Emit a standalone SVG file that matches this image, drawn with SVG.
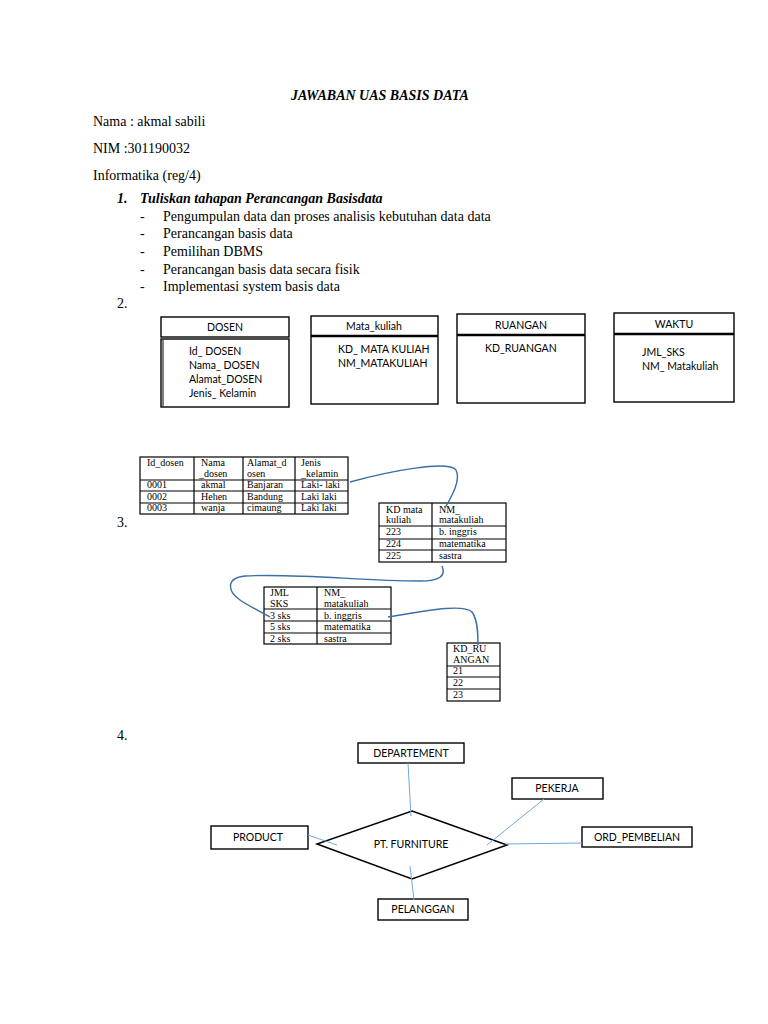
<svg xmlns="http://www.w3.org/2000/svg" width="768" height="1024" viewBox="0 0 768 1024">
<style>
.body{font-family:"Liberation Serif",serif;font-size:14px;fill:#000}
.bi{font-family:"Liberation Serif",serif;font-size:14px;font-weight:bold;font-style:italic;fill:#000}
.ent{font-family:Lato,"Liberation Sans",sans-serif;font-size:10.5px;fill:#000}
.tb{font-family:"Liberation Serif",serif;font-size:10px;fill:#000}
.box{fill:#fff;stroke:#000;stroke-width:1.4}
.grid{fill:none;stroke:#000;stroke-width:1.2}
.curve{fill:none;stroke:#3a6ea5;stroke-width:1.4}
.rel{fill:none;stroke:#6fa8dc;stroke-width:1}
</style>
<rect width="768" height="1024" fill="#fff"/>

<g id="header">
<text class="bi" x="291" y="100">JAWABAN UAS BASIS DATA</text>
<text class="body" x="93" y="126">Nama : akmal sabili</text>
<text class="body" x="93" y="153">NIM :301190032</text>
<text class="body" x="93" y="180">Informatika (reg/4)</text>
<text class="bi" x="117" y="203">1.</text>
<text class="bi" x="140" y="203">Tuliskan tahapan Perancangan Basisdata</text>
<text class="body" x="140" y="221">-</text><text class="body" x="163" y="221">Pengumpulan data dan proses analisis kebutuhan data data</text>
<text class="body" x="140" y="238">-</text><text class="body" x="163" y="238">Perancangan basis data</text>
<text class="body" x="140" y="256">-</text><text class="body" x="163" y="256">Pemilihan DBMS</text>
<text class="body" x="140" y="274">-</text><text class="body" x="163" y="274">Perancangan basis data secara fisik</text>
<text class="body" x="140" y="291">-</text><text class="body" x="163" y="291">Implementasi system basis data</text>
<text class="body" x="117" y="308">2.</text>
<text class="body" x="117" y="527">3.</text>
<text class="body" x="117" y="740">4.</text>
</g>

<g id="ent-dosen">
<rect class="box" x="161" y="317" width="128" height="20"/>
<text class="ent" x="225" y="331" text-anchor="middle">DOSEN</text>
<rect class="box" x="161" y="339" width="128" height="68"/>
<line x1="163" y1="340" x2="163" y2="406" stroke="#000" stroke-width="1"/>
<text class="ent" x="189" y="355">Id_ DOSEN</text>
<text class="ent" x="189" y="369">Nama_ DOSEN</text>
<text class="ent" x="189" y="383">Alamat_DOSEN</text>
<text class="ent" x="189" y="397">Jenis_ Kelamin</text>
</g>

<g id="ent-matakuliah">
<rect class="box" x="311" y="316" width="127" height="88"/>
<line x1="311" y1="336" x2="438" y2="336" stroke="#000" stroke-width="2.6"/>
<text class="ent" x="374" y="330" text-anchor="middle">Mata_kuliah</text>
<text class="ent" x="338" y="353">KD_ MATA KULIAH</text>
<text class="ent" x="338" y="367">NM_MATAKULIAH</text>
</g>

<g id="ent-ruangan">
<rect class="box" x="457" y="314" width="128" height="89"/>
<line x1="457" y1="335" x2="585" y2="335" stroke="#000" stroke-width="2.6"/>
<text class="ent" x="521" y="329" text-anchor="middle">RUANGAN</text>
<text class="ent" x="485" y="352">KD_RUANGAN</text>
</g>

<g id="ent-waktu">
<rect class="box" x="614" y="313" width="120" height="89"/>
<line x1="614" y1="334" x2="734" y2="334" stroke="#000" stroke-width="2.6"/>
<text class="ent" x="674" y="328" text-anchor="middle">WAKTU</text>
<text class="ent" x="642" y="356">JML_SKS</text>
<text class="ent" x="642" y="370">NM_ Matakuliah</text>
</g>

<g id="tbl-dosen">
<rect class="grid" x="140" y="457" width="208" height="57"/>
<path class="grid" d="M194,457V514M243,457V514M295,457V514M140,480H348M140,491H348M140,503H348"/>
<text class="tb" x="147" y="466">Id_dosen</text>
<text class="tb" x="201" y="466">Nama</text><text class="tb" x="199" y="477">_dosen</text>
<text class="tb" x="247" y="466">Alamat_d</text><text class="tb" x="247" y="477">osen</text>
<text class="tb" x="301" y="466">Jenis</text><text class="tb" x="301" y="477">_kelamin</text>
<text class="tb" x="147" y="488">0001</text><text class="tb" x="201" y="488">akmal</text><text class="tb" x="247" y="488">Banjaran</text><text class="tb" x="301" y="488">Laki- laki</text>
<text class="tb" x="147" y="500">0002</text><text class="tb" x="201" y="500">Hehen</text><text class="tb" x="247" y="500">Bandung</text><text class="tb" x="301" y="500">Laki laki</text>
<text class="tb" x="147" y="511">0003</text><text class="tb" x="201" y="511">wanja</text><text class="tb" x="247" y="511">cimaung</text><text class="tb" x="301" y="511">Laki laki</text>
</g>

<g id="tbl-matakuliah">
<rect class="grid" x="379" y="503" width="127" height="59"/>
<path class="grid" d="M432,503V562M379,526H506M379,539H506M379,550H506"/>
<text class="tb" x="386" y="513">KD mata</text><text class="tb" x="386" y="523">kuliah</text>
<text class="tb" x="439" y="513">NM_</text><text class="tb" x="439" y="523">matakuliah</text>
<text class="tb" x="386" y="535">223</text><text class="tb" x="439" y="535">b. inggris</text>
<text class="tb" x="386" y="547">224</text><text class="tb" x="439" y="547">matematika</text>
<text class="tb" x="386" y="559">225</text><text class="tb" x="439" y="559">sastra</text>
</g>

<g id="tbl-waktu">
<rect class="grid" x="264" y="587" width="127" height="57"/>
<path class="grid" d="M317,587V644M264,609H391M264,621H391M264,633H391"/>
<text class="tb" x="270" y="596">JML</text><text class="tb" x="270" y="607">SKS</text>
<text class="tb" x="324" y="596">NM_</text><text class="tb" x="324" y="607">matakuliah</text>
<text class="tb" x="270" y="619">3 sks</text><text class="tb" x="324" y="619">b. inggris</text>
<text class="tb" x="270" y="630">5 sks</text><text class="tb" x="324" y="630">matematika</text>
<text class="tb" x="270" y="642">2 sks</text><text class="tb" x="324" y="642">sastra</text>
</g>

<g id="tbl-ruangan">
<rect class="grid" x="447" y="643" width="53" height="58"/>
<path class="grid" d="M447,666H500M447,677H500M447,689H500"/>
<text class="tb" x="453" y="652">KD_RU</text><text class="tb" x="453" y="663">ANGAN</text>
<text class="tb" x="453" y="674">21</text>
<text class="tb" x="453" y="686">22</text>
<text class="tb" x="453" y="698">23</text>
</g>

<g id="er-departement">
<rect class="box" x="358" y="743" width="106" height="20"/>
<text class="ent" x="411" y="757" text-anchor="middle">DEPARTEMENT</text>
</g>
<g id="er-pekerja">
<rect class="box" x="512" y="778" width="91" height="21"/>
<text class="ent" x="557" y="792" text-anchor="middle">PEKERJA</text>
</g>
<g id="er-product">
<rect class="box" x="211" y="826" width="97" height="23" stroke-width="1.8"/>
<text class="ent" x="258" y="841" text-anchor="middle">PRODUCT</text>
</g>
<g id="er-ord">
<rect class="box" x="582" y="827" width="110" height="20"/>
<text class="ent" x="637" y="841" text-anchor="middle">ORD_PEMBELIAN</text>
</g>
<g id="er-pelanggan">
<rect class="box" x="378" y="899" width="90" height="21"/>
<text class="ent" x="423" y="913" text-anchor="middle">PELANGGAN</text>
</g>
<g id="er-furniture">
<polygon points="412,811 507,845 412,879 317,844" fill="#fff" stroke="#000" stroke-width="1.5"/>
<text class="ent" x="411" y="848" text-anchor="middle" font-size="9.5">PT. FURNITURE</text>
</g>

<g id="connectors">
<path class="curve" d="M350,482 C390,471 448,460 456,470 C461,480 452,496 445,508"/>
<path class="curve" d="M442,566 C446,576 440,581 420,581 C360,581 300,573 245,576 C225,578 228,592 240,600 C250,607 262,612 270,617"/>
<path class="curve" d="M388,617 C420,612 462,603 472,612 C478,620 478,635 478,645"/>
<line class="rel" x1="408" y1="763" x2="411" y2="816"/>
<line class="rel" x1="308" y1="835" x2="337" y2="845"/>
<line class="rel" x1="544" y1="799" x2="487" y2="845"/>
<line class="rel" x1="505" y1="844" x2="582" y2="843"/>
<line class="rel" x1="410" y1="866" x2="414" y2="900"/>
</g>
</svg>
